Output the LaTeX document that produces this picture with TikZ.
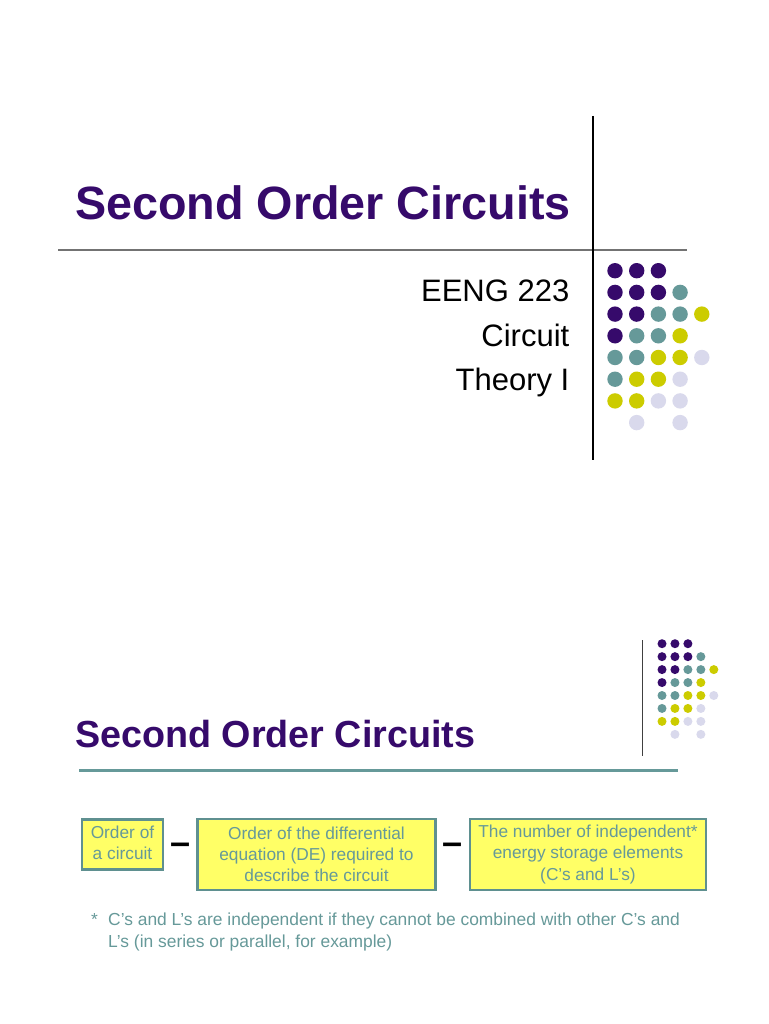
\documentclass[tikz,border=0pt]{standalone}
\usepackage{fontspec}
\setmainfont{Liberation Sans}
\definecolor{dp}{HTML}{360A6B}
\definecolor{dt}{HTML}{669999}
\definecolor{dy}{HTML}{CCCC00}
\definecolor{dl}{HTML}{D9D9EC}
\definecolor{boxy}{HTML}{FFFF66}
\definecolor{boxb}{HTML}{5F9090}
\tikzset{
  ttl/.style={font=\bfseries\fontsize{#1}{#1}\selectfont,text=dp,inner sep=0pt,anchor=base west},
  boxn/.style={draw=boxb,line width=2.2pt,fill=boxy,text=dt,align=center,inner sep=0pt,font=\fontsize{17.3}{21.3}\selectfont},
  sub/.style={font=\fontsize{31}{31}\selectfont,inner sep=0pt,anchor=base east,text=black},
  note/.style={font=\fontsize{17.4}{17.4}\selectfont,text=dt,inner sep=0pt,anchor=base west},
  minus/.style={font=\bfseries\fontsize{36}{36}\selectfont,inner sep=0pt,text=black}
}
\newcommand{\dotgrid}[4]{%
  \foreach \row [count=\j from 0] in {{dp,dp,dp,,},{dp,dp,dp,dt,},{dp,dp,dt,dt,dy},{dp,dt,dt,dy,},{dt,dt,dy,dy,dl},{dt,dy,dy,dl,},{dy,dy,dl,dl,},{,dl,,dl,}}{
    \foreach \c [count=\i from 0] in \row {
      \ifx\c\empty\else
        \fill[\c] ({#1+\i*#3},{#2+\j*#3}) circle[radius=#4];
      \fi
    }
  }
}
\begin{document}
\begin{tikzpicture}[x=1pt,y=-1pt]
\useasboundingbox[fill=white] (0,0) rectangle (768,1024);
% upper slide
\node[ttl=46.7] (t1) at (75,219) {Second Order Circuits};
\coordinate (vt) at (593,116); \coordinate (vb) at (593,460);
\coordinate (hl) at (58,250); \coordinate (hr) at (687,250);
\draw[line width=1.2pt,black!55] (hl) -- (hr);
\draw[line width=1.5pt,black] (vt) -- (vb);
\node[sub] (s1) at (569.5,301) {EENG 223};
\node[sub] (s2) at (569.5,346) {Circuit};
\node[sub] (s3) at (569.5,390) {Theory I};
\dotgrid{615}{270.7}{21.7}{7.7}
% lower slide
\node[ttl=37.7] (t2) at (75,747) {Second Order Circuits};
\coordinate (v2t) at (642.5,640); \coordinate (v2b) at (642.5,756);
\coordinate (rl) at (79,770); \coordinate (rr) at (678,770);
\draw[line width=1.1pt,black!75] (v2t) -- (v2b);
\draw[line width=3pt,dt] (rl) -- (rr);
\dotgrid{662}{643.7}{12.95}{4.5}
\node[boxn,minimum width=81pt,minimum height=50pt] (b1) at (122.5,844.5) {\raisebox{2pt}{\begin{tabular}{@{}c@{}}Order of\\a circuit\end{tabular}}};
\node[boxn,minimum width=238pt,minimum height=71pt] (b2) at (316.5,854.5) {Order of the differential\\equation (DE) required to\\describe the circuit};
\node[boxn,minimum width=236pt,minimum height=71pt] (b3) at (588,854.5) {The number of independent*\\energy storage elements\\(C’s and L’s)};
\node[minus] (m1) at (180.5,849) {–};
\node[minus] (m2) at (452.5,849) {–};
\node[note] (n0) at (91,925.5) {*};
\node[note] (n1) at (108,925.5) {C’s and L’s are independent if they cannot be combined with other C’s and};
\node[note] (n2) at (108,947) {L’s (in series or parallel, for example)};
\end{tikzpicture}
\end{document}
